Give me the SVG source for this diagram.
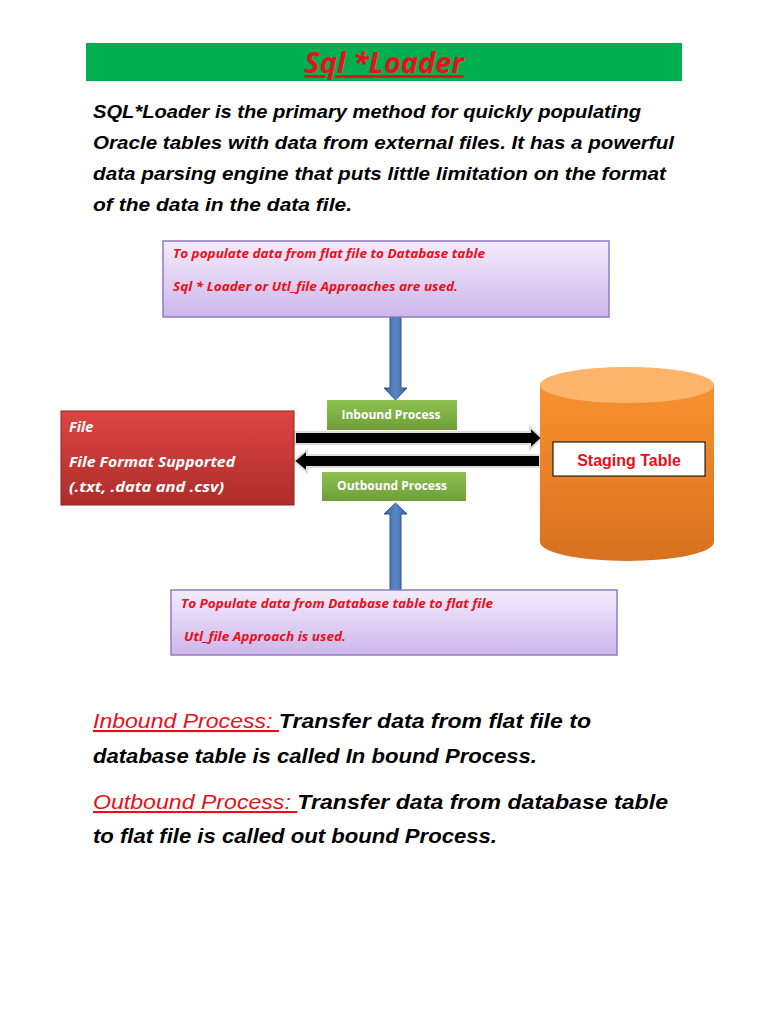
<svg xmlns="http://www.w3.org/2000/svg" width="768" height="1024" viewBox="0 0 768 1024">
<defs>
<linearGradient id="purp" x1="0" y1="0" x2="0" y2="1"><stop offset="0" stop-color="#f3ecfb"/><stop offset="1" stop-color="#cdb6ec"/></linearGradient>
<linearGradient id="red" x1="0" y1="0" x2="0" y2="1"><stop offset="0" stop-color="#dd4541"/><stop offset="1" stop-color="#ad2d2b"/></linearGradient>
<linearGradient id="grn" x1="0" y1="0" x2="0" y2="1"><stop offset="0" stop-color="#8dc14f"/><stop offset="1" stop-color="#6f9e3a"/></linearGradient>
<linearGradient id="org" x1="0" y1="0" x2="0" y2="1"><stop offset="0" stop-color="#f8912f"/><stop offset="1" stop-color="#d8711f"/></linearGradient>
<linearGradient id="blu" x1="0" y1="0" x2="1" y2="0"><stop offset="0" stop-color="#3b64a0"/><stop offset="0.5" stop-color="#5b87c5"/><stop offset="1" stop-color="#3b64a0"/></linearGradient>
</defs>
<style>
text{font-family:"Liberation Sans",Arial,sans-serif}
.b{font-family:"Open Sans","Liberation Sans",sans-serif;font-weight:bold;font-style:italic}
.r{fill:#e8101a}
.w{fill:#ffffff}
.g{fill:#fff;font-family:"Open Sans","Liberation Sans",sans-serif;font-weight:bold;font-size:12px}
</style>
<rect x="86" y="43" width="596" height="38" fill="#00b050"/>
<text x="384" y="73" text-anchor="middle" class="b r" font-size="29" text-decoration="underline">Sql *Loader</text>
<g class="b" font-size="19" fill="#000">
<text x="93" y="118" textLength="548" lengthAdjust="spacingAndGlyphs">SQL*Loader is the primary method for quickly populating</text>
<text x="93" y="149" textLength="581" lengthAdjust="spacingAndGlyphs">Oracle tables with data from external files. It has a powerful</text>
<text x="93" y="180" textLength="573" lengthAdjust="spacingAndGlyphs">data parsing engine that puts little limitation on the format</text>
<text x="93" y="211" textLength="259" lengthAdjust="spacingAndGlyphs">of the data in the data file.</text>
</g>
<g id="connectors">
<path d="M390 317 H401 V388 H407 L395.5 400 L384 388 H390 Z" fill="url(#blu)" stroke="#2f528f" stroke-width="1"/>
<path d="M390 590 H401 V514 H407 L395.5 503 L384 514 H390 Z" fill="url(#blu)" stroke="#2f528f" stroke-width="1"/>
<path d="M295 432 H530 V427 L542 438 L530 449 V444 H295 Z" fill="#000" stroke="#ddd" stroke-width="2"/>
<path d="M540 455 H307 V450 L294 461 L307 472 V467 H540 Z" fill="#000" stroke="#ddd" stroke-width="2"/>
</g>
<g id="top-box">
<rect x="163" y="241" width="446" height="76" fill="url(#purp)" stroke="#8e7cc3" stroke-width="1.5"/>
<text x="173" y="258" class="b r" font-size="13" textLength="312" lengthAdjust="spacingAndGlyphs">To populate data from flat file to Database table</text>
<text x="173" y="291" class="b r" font-size="13" textLength="285" lengthAdjust="spacingAndGlyphs">Sql * Loader or Utl_file Approaches are used.</text>
</g>
<g id="inbound">
<rect x="327" y="400" width="130" height="30" fill="url(#grn)"/>
<text x="391" y="419" text-anchor="middle" class="g">Inbound Process</text>
</g>
<g id="outbound">
<rect x="322" y="472" width="144" height="29" fill="url(#grn)"/>
<text x="392" y="490" text-anchor="middle" class="g">Outbound Process</text>
</g>
<g id="file">
<rect x="61" y="411" width="233" height="94" fill="url(#red)" stroke="#8b2020" stroke-width="1"/>
<text x="69" y="432" class="b w" font-size="14.5">File</text>
<text x="69" y="467" class="b w" font-size="14.5" textLength="166" lengthAdjust="spacingAndGlyphs">File Format Supported</text>
<text x="69" y="492" class="b w" font-size="14.5" textLength="155" lengthAdjust="spacingAndGlyphs">(.txt, .data and  .csv)</text>
</g>
<g id="staging">
<path d="M540 385 V542 A87 19 0 0 0 714 542 V385 Z" fill="url(#org)"/>
<ellipse cx="627" cy="385" rx="87" ry="18" fill="#fbb46a"/>
<rect x="553" y="442" width="152" height="34" fill="#fff" stroke="#000" stroke-width="1"/>
<text x="629" y="466" text-anchor="middle" font-family="'Open Sans','Liberation Sans',sans-serif" font-weight="bold" font-size="16" class="r">Staging Table</text>
</g>
<g id="bottom-box">
<rect x="171" y="590" width="446" height="65" fill="url(#purp)" stroke="#8e7cc3" stroke-width="1.5"/>
<text x="181" y="608" class="b r" font-size="13" textLength="312" lengthAdjust="spacingAndGlyphs">To Populate data from Database table to flat file</text>
<text x="184" y="641" class="b r" font-size="13" textLength="162" lengthAdjust="spacingAndGlyphs">Utl_file Approach is used.</text>
</g>
<g class="b" font-size="21">
<text x="93" y="728" textLength="498" lengthAdjust="spacingAndGlyphs"><tspan class="r" text-decoration="underline" font-weight="normal">Inbound Process: </tspan><tspan>Transfer data from flat file to</tspan></text>
<text x="93" y="763" textLength="444" lengthAdjust="spacingAndGlyphs">database table is called In bound Process.</text>
<text x="93" y="809" textLength="575" lengthAdjust="spacingAndGlyphs"><tspan class="r" text-decoration="underline" font-weight="normal">Outbound Process: </tspan><tspan>Transfer data from database table</tspan></text>
<text x="93" y="843" textLength="404" lengthAdjust="spacingAndGlyphs">to flat file is called out bound Process.</text>
</g>
</svg>
